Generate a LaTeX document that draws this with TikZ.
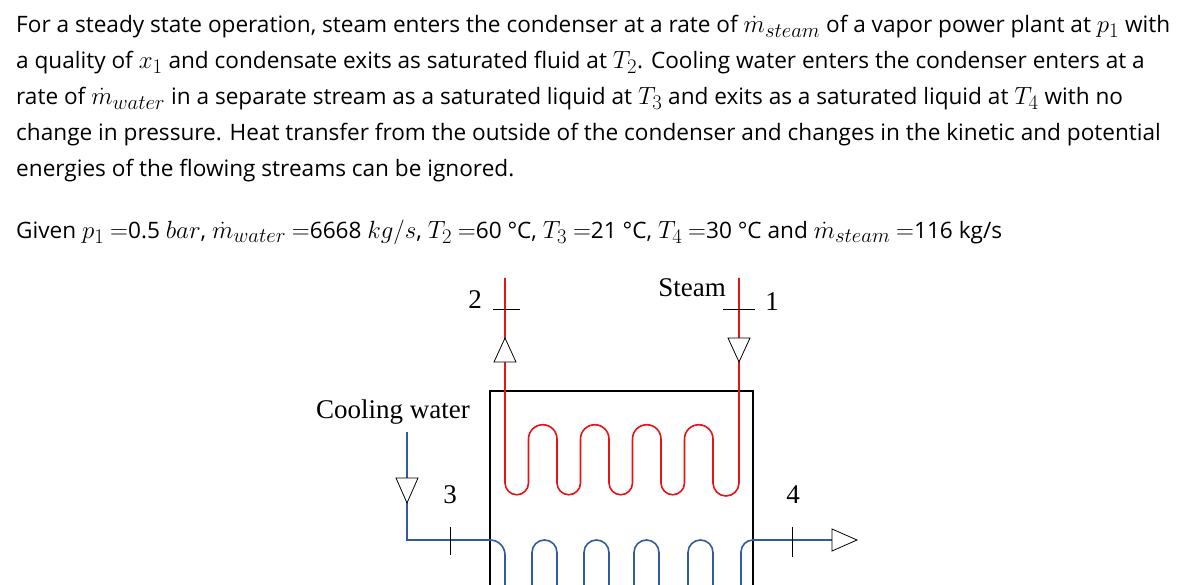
\documentclass[tikz,border=0pt]{standalone}
\usepackage{fontspec}
\setmainfont{Open Sans}
\newfontfamily\serifd{Liberation Serif}
\DeclareMathSizes{22.6}{28}{21}{16}
\begin{document}
\begin{tikzpicture}[x=1pt,y=-1pt,
  txt/.style={anchor=west,inner sep=0pt,font=\fontsize{22.6}{26}\selectfont},
  lbl/.style={inner sep=0pt,font=\serifd\fontsize{27}{30}\selectfont},
  red/.style={draw={rgb,255:red,230;green,20;blue,20},line width=1.6pt},
  blu/.style={draw={rgb,255:red,50;green,90;blue,160},line width=1.6pt},
  tri/.style={draw=black,fill=white,line width=0.8pt},
  tick/.style={draw=black,line width=0.9pt}]
\useasboundingbox (0,0) rectangle (1188,585);
\fill[white] (0,0) rectangle (1188,585);
\node[txt] (l1) at (16,27) {For a steady state operation, steam enters the condenser at a rate of $\dot m_{steam}$ of a vapor power plant at $p_1$ with};
\node[txt] (l2) at (16,63) {a quality of $x_1$ and condensate exits as saturated fluid at $T_2$. Cooling water enters the condenser enters at a};
\node[txt] (l3) at (16,99) {rate of $\dot m_{water}$ in a separate stream as a saturated liquid at $T_3$ and exits as a saturated liquid at $T_4$ with no};
\node[txt] (l4) at (16,135) {change in pressure. Heat transfer from the outside of the condenser and changes in the kinetic and potential};
\node[txt] (l5) at (16,171) {energies of the flowing streams can be ignored.};
\node[txt] (l6) at (16,232) {Given $p_1$ $=$0.5 $bar$, $\dot m_{water}$ $=$6668 $kg/s$, $T_2$ $=$60 °C, $T_3$ $=$21 °C, $T_4$ $=$30 °C and $\dot m_{steam}$ $=$116 kg/s};
% box
\draw[line width=1.4pt] (490,585) -- (490,391) -- (753,391) -- (753,585);
% red coil
\draw[red] (505,278) -- (505,483)
  arc[start angle=180,end angle=0,radius=11.75] -- (528.5,439)
  arc[start angle=180,end angle=360,radius=14.25] -- (557,483)
  arc[start angle=180,end angle=0,radius=11.75] -- (580.5,439)
  arc[start angle=180,end angle=360,radius=14.25] -- (609,483)
  arc[start angle=180,end angle=0,radius=11.75] -- (632.5,439)
  arc[start angle=180,end angle=360,radius=14.25] -- (661,483)
  arc[start angle=180,end angle=0,radius=11.75] -- (684.5,439)
  arc[start angle=180,end angle=360,radius=14.25] -- (713,483)
  arc[start angle=180,end angle=0,radius=13] -- (739,278);
% blue coil
\draw[blu] (407,432) -- (407,540) -- (490,540) arc[start angle=-90,end angle=0,radius=15] -- (505,585);
\foreach \xa in {532,584,634,688}{
  \draw[blu] (\xa,585) -- (\xa,552.5) arc[start angle=180,end angle=360,radius=12.5] -- (\xa+25,585);}
\draw[blu] (741,585) -- (741,552) arc[start angle=180,end angle=270,radius=12] -- (832,540);
% ticks and triangles
\draw[tick] (493,309) -- (520,309);
\draw[tick] (723,309) -- (755,309);
\draw[tick] (450,527) -- (450,555);
\draw[tick] (792,527) -- (792,557);
\draw[tri] (494,362) -- (516,362) -- (505,338) -- cycle;
\draw[tri] (728,338) -- (750,338) -- (739,362) -- cycle;
\draw[tri] (396,478) -- (418,478) -- (407,503) -- cycle;
\draw[tri] (832,529) -- (832,551) -- (857,540) -- cycle;
% labels
\node[lbl] (n2) at (475,300) {2};
\node[lbl] (n1) at (772,302) {1};
\node[lbl] (st) at (692,288) {Steam};
\node[lbl] (cw) at (393,412) {Cooling water};
\node[lbl] (n3) at (450,495) {3};
\node[lbl] (n4) at (793,495) {4};
\end{tikzpicture}
\end{document}
